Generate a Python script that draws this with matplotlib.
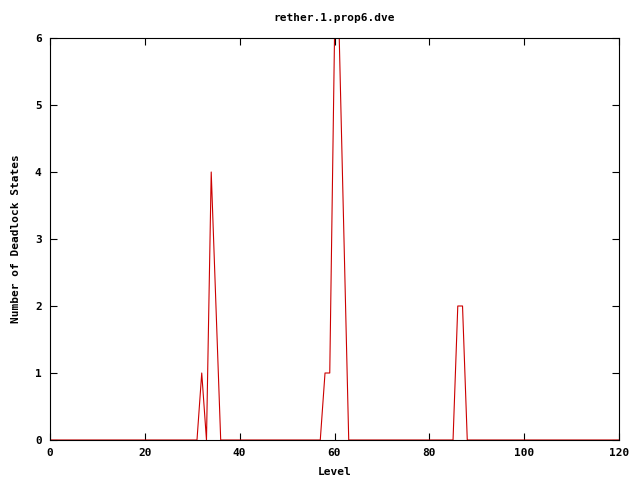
import matplotlib
matplotlib.use("Agg")
import matplotlib.pyplot as plt
import numpy as np

# levels with a non-zero number of deadlock states (all others are 0)
peak_levels = [32, 33, 34, 35, 58, 59, 60, 61, 62, 86, 87]
peak_counts = [1, 0, 4, 2, 1, 1, 6, 6, 3, 2, 2]
max_level = 120

levels = np.arange(0, max_level + 1)
counts = np.zeros(len(levels))
counts[peak_levels] = peak_counts

plt.rcParams['font.family'] = ['DejaVu Sans Mono']
plt.rcParams['font.weight'] = 'bold'
plt.rcParams['font.size'] = 8

fig = plt.figure(figsize=(6.4, 4.8), dpi=100)
ax = fig.add_axes([50 / 640, 40 / 480, 569 / 640, 402 / 480])

ax.plot(levels, counts, color='#cc0000', linewidth=0.8, zorder=2)

ax.set_xlim(0, 120)
ax.set_ylim(0, 6)
ax.set_xticks(np.arange(0, 121, 20))
ax.set_yticks(np.arange(0, 7, 1))
ax.tick_params(direction='in', length=5, width=0.8, top=True, right=True,
               labelsize=8, pad=6)
for s in ax.spines.values():
    s.set_linewidth(0.8)
    s.set_zorder(3)

ax.set_title('rether.1.prop6.dve', fontsize=8, fontweight='bold', pad=12)
ax.set_xlabel('Level', fontsize=8, fontweight='bold', labelpad=6)
ax.set_ylabel('Number of Deadlock States', fontsize=8, fontweight='bold', labelpad=10)

fig.savefig('out.png', dpi=100)
